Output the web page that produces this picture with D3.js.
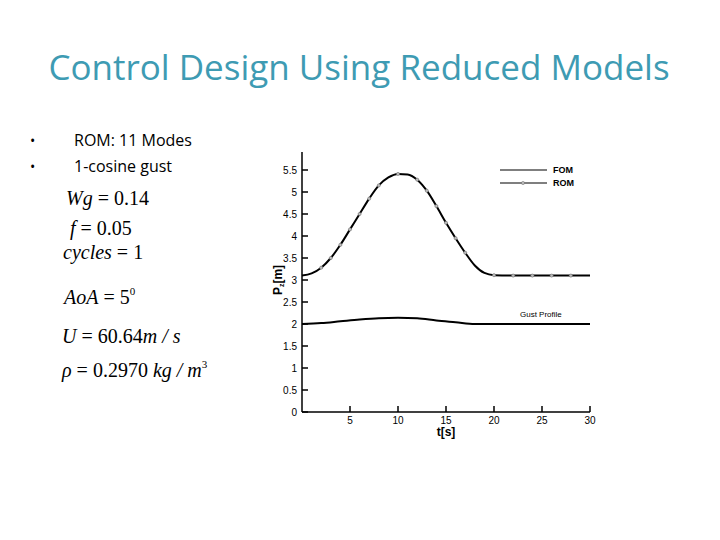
<!DOCTYPE html>
<html><head><meta charset="utf-8">
<script src="https://cdn.jsdelivr.net/npm/d3@7"></script>
<style>body{margin:0;background:#fff}</style>
</head><body>
<svg id="c" width="720" height="540"></svg>
<script>
// values
var fomT = [0,1,2,3,4,5,6,7,8,9,10,11,12,13,14,15,16,17,18,19,20,22,24,26,28,30];
var fomY = [3.10,3.15,3.28,3.5,3.8,4.15,4.5,4.85,5.15,5.33,5.41,5.40,5.28,5.03,4.68,4.3,3.95,3.62,3.33,3.16,3.11,3.10,3.10,3.10,3.10,3.10];
var romT = [2,3,4,5,6,7,8,10,12,13,14,15,16,17,20,22,24,26,28];
var romY = [3.28,3.5,3.8,4.15,4.5,4.85,5.15,5.41,5.28,5.03,4.68,4.3,3.95,3.62,3.11,3.10,3.10,3.10,3.10];
var gustT = [0,2,4,6,8,10,12,14,16,18,20,25,30];
var gustY = [2.0,2.02,2.06,2.1,2.13,2.14,2.13,2.08,2.04,2.0,2.0,2.0,2.0];
var xTicks = [5,10,15,20,25,30];
var yTicks = [0,0.5,1,1.5,2,2.5,3,3.5,4,4.5,5,5.5];
var bullets = ["ROM: 11 Modes", "1-cosine gust"];

var svg = d3.select("#c");
svg.append("text").attr("x",359).attr("y",80).attr("text-anchor","middle")
  .attr("font-family","Open Sans").attr("font-size",35).attr("fill","#3e9bb3")
  .text("Control Design Using Reduced Models");

bullets.forEach(function(b,i){
  svg.append("text").attr("x",30).attr("y",146+i*26).attr("font-family","Open Sans").attr("font-size",14).text("•");
  svg.append("text").attr("x",74).attr("y",146+i*26).attr("font-family","Open Sans").attr("font-size",16).text(b);
});

// equations
var eq = svg.append("g").attr("font-family","Liberation Serif").attr("font-size",20);
function line(x,y,parts){
  var t = eq.append("text").attr("x",x).attr("y",y);
  parts.forEach(function(p){
    var s = t.append("tspan").text(p[0]);
    if(p[1]) s.attr("font-style","italic");
    if(p[2]) s.attr("font-size",11).attr("dy",p[2]);
  });
}
line(66,205,[["Wg",1],[" = 0.14"]]);
line(70,235,[["f",1],[" = 0.05"]]);
line(63,259,[["cycles",1],[" = 1"]]);
line(64,304,[["AoA",1],[" = 5"],["0",0,-9]]);
line(62,343,[["U",1],[" = 60.64"],["m / s",1]]);
line(62,377,[["ρ",1],[" = 0.2970 "],["kg / m",1],["3",0,-9]]);

// chart
var x = d3.scaleLinear().domain([0,30]).range([302,590]);
var y = d3.scaleLinear().domain([0,5.5]).range([412,170]);
var ax = svg.append("g").attr("font-family","Liberation Sans").attr("font-size",10);
ax.append("line").attr("x1",302).attr("x2",302).attr("y1",412).attr("y2",152).attr("stroke","#000").attr("stroke-width",1.5);
ax.append("line").attr("x1",302).attr("x2",590).attr("y1",412).attr("y2",412).attr("stroke","#000").attr("stroke-width",1.5);
xTicks.forEach(function(v){
  ax.append("line").attr("x1",x(v)).attr("x2",x(v)).attr("y1",412).attr("y2",406).attr("stroke","#000").attr("stroke-width",1.5);
  ax.append("text").attr("x",x(v)).attr("y",424).attr("text-anchor","middle").text(v);
});
yTicks.forEach(function(v){
  ax.append("line").attr("x1",302).attr("x2",308).attr("y1",y(v)).attr("y2",y(v)).attr("stroke","#000").attr("stroke-width",1.5);
  ax.append("text").attr("x",297).attr("y",y(v)+3.5).attr("text-anchor","end").text(v);
});
ax.append("text").attr("x",446).attr("y",436).attr("text-anchor","middle").attr("font-weight","bold").attr("font-size",12).text("t[s]");
ax.append("text").attr("transform","translate(282,280) rotate(-90)").attr("text-anchor","middle")
  .attr("font-weight","bold").attr("font-size",12).html("P<tspan font-size='7' dy='2'>z</tspan><tspan dy='-2'>[m]</tspan>");

var lg = d3.line().x(function(d){return x(d[0]);}).y(function(d){return y(d[1]);}).curve(d3.curveMonotoneX);
svg.append("path").attr("d",lg(d3.zip(fomT,fomY))).attr("fill","none").attr("stroke","#000").attr("stroke-width",2);
svg.append("path").attr("d",lg(d3.zip(gustT,gustY))).attr("fill","none").attr("stroke","#000").attr("stroke-width",2);
svg.selectAll(".rom").data(d3.zip(romT,romY)).enter().append("circle")
  .attr("cx",function(d){return x(d[0]);}).attr("cy",function(d){return y(d[1]);})
  .attr("r",1.6).attr("fill","#bbb").attr("stroke","#666").attr("stroke-width",0.5);

// legend
svg.append("line").attr("x1",500).attr("x2",547).attr("y1",170).attr("y2",170).attr("stroke","#000").attr("stroke-width",1.2);
svg.append("line").attr("x1",500).attr("x2",547).attr("y1",183).attr("y2",183).attr("stroke","#000").attr("stroke-width",1.2);
svg.append("circle").attr("cx",523).attr("cy",183).attr("r",1.6).attr("fill","#bbb").attr("stroke","#666").attr("stroke-width",0.5);
svg.append("text").attr("x",553).attr("y",173).attr("font-family","Liberation Sans").attr("font-weight","bold").attr("font-size",9).text("FOM");
svg.append("text").attr("x",553).attr("y",186).attr("font-family","Liberation Sans").attr("font-weight","bold").attr("font-size",9).text("ROM");
svg.append("text").attr("x",520).attr("y",317).attr("font-family","Liberation Sans").attr("font-size",8).text("Gust Profile");
</script>
</body></html>
